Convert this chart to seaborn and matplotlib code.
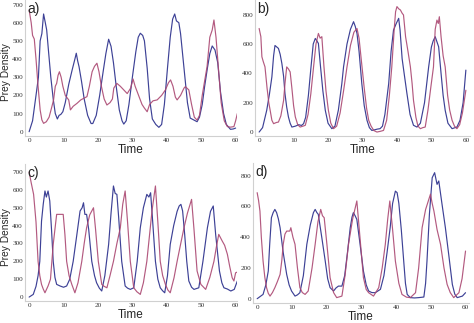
import numpy as np
import pandas as pd
import matplotlib
matplotlib.use("Agg")
import matplotlib.pyplot as plt
import seaborn as sns

# ---------------- data ----------------
a_blue_t = [0,1,2,2.7,3.2,3.7,4.2,4.7,5.1,5.6,6.3,7,7.6,8.2,8.7,9.2,9.8,10.5,11.5,12.5,13.3,13.7,14.1,14.5,15.2,16,17,18,18.5,19.5,20.5,21.5,22.3,23.1,23.8,24.5,25.3,26.2,27,27.5,28.2,29,30,31,31.7,32.3,33,33.5,34.3,35,35.8,36.8,37.7,38.5,39.3,40.2,41,41.7,42.3,42.8,43.5,44,45,46,46.8,47.9,48.8,49.5,50.3,51,51.8,52.5,53.2,54,54.8,55.6,56.5,57.3,58.5,59.3,60]
a_blue_v = [0,60,200,300,500,540,648,600,560,450,300,180,100,70,90,95,110,160,260,340,400,432,390,358,280,180,90,45,45,90,200,330,430,509,470,380,250,120,60,42,60,150,300,440,520,542,530,500,350,180,70,40,24,40,150,350,520,620,648,610,600,540,350,160,75,64,55,80,150,250,350,430,472,450,380,220,100,40,13,15,20]
a_red_t = [0,0.6,1,1.5,2,2.6,3.2,3.7,4.2,5,5.8,6.5,7.1,7.6,8,8.4,8.8,9.3,9.8,10.5,11.5,12,12.8,13.9,15,16,16.8,17.5,18.3,19,19.7,20.3,21,21.8,22.6,23.5,24.2,24.6,25.5,26.5,27.5,28.5,29.5,30.2,30.8,31.8,32.8,33.5,34.3,35,36,37.2,38.5,39.6,40.5,41.1,41.8,42.5,43,44,45,45.4,46.4,47.2,48,48.8,49.5,50.3,51,51.7,52.5,53.2,53.7,54.3,55,55.8,56.7,57.6,58.5,59.5,60,60.5]
a_red_v = [670,600,530,510,400,250,120,65,46,55,80,130,175,250,266,310,330,300,250,200,175,120,140,156,175,185,193,250,330,360,377,330,250,180,147,160,180,240,266,250,230,210,240,290,250,200,150,130,110,150,170,175,200,230,270,285,250,190,175,200,240,248,230,150,80,64,90,200,280,358,520,560,615,520,350,160,60,28,25,28,60,100]

b_blue_t = [0,1,2.2,3,3.7,4.2,4.6,5.1,5.6,6.1,6.6,7.1,7.5,8,8.5,9,9.5,10.5,11.5,12.3,12.9,13.5,14.3,15,15.7,16.3,16.8,17.2,17.8,18.5,19.2,20,21.1,22,23,24,24.5,25.5,26.5,27.4,27.9,28.4,29,29.8,30.5,31.3,32,32.7,33.5,34.3,35.1,35.8,36.5,37.6,38.3,39,39.8,40.5,40.9,41.5,42.2,42.9,43.8,44.8,45.8,46.8,48,49.2,50,50.5,51.1,52.1,52.8,53.4,54,54.8,56,57.4,58.3,59.2,60]
b_blue_v = [0,30,148,260,376,520,590,580,570,530,467,380,262,170,103,60,34,40,50,45,57,100,250,430,600,638,620,604,450,280,148,60,23,40,150,330,444,600,700,752,720,672,550,330,180,80,30,11,15,20,23,40,120,330,550,695,740,775,695,500,380,262,120,46,34,60,200,444,580,620,650,581,400,250,148,60,23,34,80,200,422]
b_red_t = [0,0.5,0.8,1.2,1.7,2.3,2.8,3.2,3.7,4.2,5,5.6,6.3,7.1,7.5,8,8.5,9,9.5,10,10.5,11.2,11.9,12.7,13.4,14.2,15,15.8,16.5,17.2,17.7,18.2,18.8,19.4,20.1,20.8,21.6,22.5,23.5,24.5,25.5,26.5,27.5,28.4,29,29.7,30.5,31.2,31.8,32.5,33.3,34.2,35.2,36.1,37,37.8,38.5,39.2,39.6,40,40.5,41,41.5,41.9,42.5,43.2,43.9,44.4,44.8,45.5,46.1,46.8,47.5,48.2,49,49.8,50.6,51.1,51.6,52,52.3,52.8,53.4,54,54.7,55.3,56,56.7,57.4,58.2,59,60]
b_red_v = [706,650,513,480,444,300,200,148,80,57,65,68,110,216,330,444,430,410,300,180,103,50,34,40,46,120,260,444,600,672,640,650,450,280,148,60,23,40,130,280,444,590,680,706,640,480,300,160,80,40,10,0,5,11,80,250,444,700,820,855,840,832,810,798,650,550,444,330,216,100,40,23,30,34,150,300,444,700,763,740,786,650,520,444,250,150,80,40,23,50,130,285]

c_blue_t = [0,1.2,2,2.6,3.1,3.6,4.1,4.6,5,5.5,6,6.5,7,7.5,8,9,10,10.9,11.8,12.8,13.8,14.8,15.4,15.8,16.2,16.7,17.3,18.2,19,19.6,20.4,21.1,22,23.1,23.8,24.5,25,25.5,26,26.9,27.9,28.6,29.4,30.4,31.4,32.3,33.2,34.2,34.8,35.3,35.8,36.7,37.4,38.1,38.8,39.4,40.2,41,42,43,43.6,44.1,44.6,45.2,45.8,46.4,47.2,47.9,49.3,50.5,51.8,52.7,53.5,54.2,55.3,56,56.6,57.6,58.6,59.6,60.5]
c_blue_v = [0,15,60,120,200,425,520,594,560,594,538,380,200,110,71,62,55,62,100,200,340,482,500,528,463,463,380,200,120,80,50,34,120,295,470,622,580,575,450,200,62,50,43,52,200,388,500,575,560,584,450,200,100,52,35,24,120,295,400,480,510,519,482,350,200,90,55,43,52,200,388,480,510,350,146,80,52,45,34,43,90]
c_red_t = [0,0.6,1.3,2,2.6,3.1,3.6,4.1,4.6,5.5,6.2,7,7.5,8,9,9.9,10.4,10.9,11.6,12.4,13.3,14.2,15.3,16,16.7,17.6,18.7,19.3,20.1,21.1,21.8,22.6,23.5,24.5,25.5,26.5,27.2,27.9,28.6,29.4,30.4,31.3,32.3,33.2,34.2,35,35.7,36.7,37.4,38.1,38.8,39.6,40.3,41,42.1,43,44,45,46,47.2,47.9,48.8,49.9,51.3,52.5,53.7,54.4,55.1,56.1,56.8,57.6,58.3,59,59.5,60,60.5]
c_red_v = [700,640,575,420,200,120,71,45,24,62,100,295,380,463,463,463,350,200,120,71,24,80,200,300,388,460,500,380,200,71,60,52,120,200,300,388,520,594,420,200,52,30,15,80,200,350,482,622,420,200,120,71,40,24,108,200,295,388,470,547,380,146,71,43,110,200,280,351,314,290,240,170,108,90,136,140]

d_blue_t = [0,1.7,2.5,3.2,3.6,4.1,4.6,5.1,5.6,6.1,6.6,7.5,8.5,9.2,9.9,10.9,11.6,12.3,13.3,14.3,15.3,16.2,16.7,17.2,17.6,18.6,19.6,20.3,21,22,22.7,23.4,24.4,25.2,26,26.8,27.3,27.7,28.2,28.7,29.6,30.6,31.4,32.1,33,34,35.5,36.5,37.4,38.3,39,39.8,40.3,40.8,41.5,42.2,42.7,43.2,44.1,45.3,46.5,48,48.5,48.9,49.6,50.4,51.1,51.8,52.3,53.2,54.2,55.2,56.2,56.9,57.6,59.1,60]
d_blue_v = [0,28,90,180,350,527,560,581,560,520,462,300,158,90,50,17,25,39,150,354,480,560,581,560,549,400,245,130,72,50,70,82,82,150,300,462,530,560,540,516,360,180,90,50,40,39,61,150,300,462,620,700,690,620,450,245,100,28,7,5,7,11,100,245,550,787,820,744,766,620,462,280,93,30,7,17,39]
d_red_t = [0,0.4,0.8,1.2,1.7,2.2,2.7,3.2,3.7,4.4,5.1,5.8,6.6,7.1,7.5,8,8.5,9.4,9.7,10.3,10.9,11.6,12.3,13,13.8,14.7,15.8,16.7,17.5,18.3,18.8,19.3,20.1,21,22,22.9,24.4,25.3,26.3,27.5,28.7,29.6,30.6,31.4,32.1,33.5,35,36,36.9,37.6,38.2,39,39.8,40.8,41.7,43,44.1,45.6,46.5,47.5,48.5,49.9,50.4,50.9,51.8,52.8,53.8,54.7,55.6,56.6,58.1,59,60]
d_red_v = [690,640,570,400,245,140,72,35,17,40,72,110,158,250,354,420,440,440,462,400,354,200,72,40,28,50,200,354,500,581,540,527,350,137,40,7,17,150,354,520,636,400,137,60,39,17,72,200,354,520,636,450,245,100,28,10,7,39,200,462,580,680,620,570,450,354,200,93,40,7,39,130,310]

panel_labels = ["a)", "b)", "c)", "d)"]
x_ticks = [0, 10, 20, 30, 40, 50, 60]
y_ticks_ac = [0, 100, 200, 300, 400, 500, 600, 700]
y_ticks_bd = [0, 200, 400, 600, 800]

BLUE = "#3d4196"
RED = "#ab4872"

sns.set_style("white")
plt.rcParams["font.family"] = ["Liberation Sans", "DejaVu Sans"]

fig = plt.figure(figsize=(4.74, 3.23), dpi=100)

# axes rectangles in figure fraction: left, bottom, width, height
rects = [
    [25/474, 1-135.7/323, 212/474, 135.7/323],
    [255/474, 1-136/323, 215/474, 136/323],
    [25/474, 1-301/323, 212/474, (301-164)/323],
    [253/474, 1-302.7/323, 216/474, (302.7-163)/323],
]
ylims = [(-22, 725), (-27, 900), (-22, 745), (-26, 883)]
xlims = [(-1.2, 60.4), (-1.2, 61.2), (-1.2, 60.4), (-1.2, 61.0)]
series = [
    (a_blue_t, a_blue_v, a_red_t, a_red_v),
    (b_blue_t, b_blue_v, b_red_t, b_red_v),
    (c_blue_t, c_blue_v, c_red_t, c_red_v),
    (d_blue_t, d_blue_v, d_red_t, d_red_v),
]
yticks = [y_ticks_ac, y_ticks_bd, y_ticks_ac, y_ticks_bd]

for i in range(4):
    ax = fig.add_axes(rects[i])
    bt, bv, rt, rv = series[i]
    dfb = pd.DataFrame({"Time": bt, "Prey": bv})
    dfr = pd.DataFrame({"Time": rt, "Prey": rv})
    sns.lineplot(data=dfb, x="Time", y="Prey", ax=ax, color=BLUE, lw=0.85,
                 estimator=None, sort=False)
    sns.lineplot(data=dfr, x="Time", y="Prey", ax=ax, color=RED, lw=0.85,
                 estimator=None, sort=False, alpha=0.9)
    ax.set_xlim(*xlims[i])
    ax.set_ylim(*ylims[i])
    ax.set_xticks(x_ticks)
    ax.set_yticks(yticks[i])
    ax.tick_params(axis="both", length=0, pad=1.5, labelsize=5.2,
                   labelcolor="#333333")
    for lab in ax.get_xticklabels() + ax.get_yticklabels():
        lab.set_family("Liberation Serif")
    for s in ["top", "right"]:
        ax.spines[s].set_visible(False)
    for s in ["left", "bottom"]:
        ax.spines[s].set_color("#d0d0d0")
        ax.spines[s].set_linewidth(0.8)
    ax.set_xlabel("Time", fontsize=8.5, labelpad=1)
    if i in (0, 2):
        ax.set_ylabel("Prey Density", fontsize=7.3)
        ax.yaxis.set_label_coords(-0.068, 0.47)
    else:
        ax.set_ylabel("")
    ax.text(0.01, 0.985, panel_labels[i], transform=ax.transAxes,
            fontsize=10, va="top", ha="left")

fig.savefig("out.png", dpi=100)
